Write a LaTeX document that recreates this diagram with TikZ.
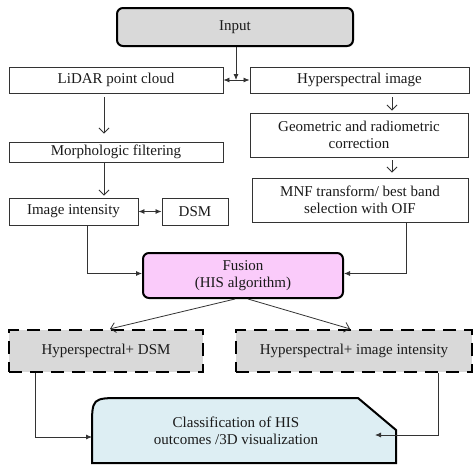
\documentclass[tikz,border=0pt]{standalone}
\usepackage{fontspec}
\setmainfont{Liberation Serif}
\usetikzlibrary{arrows.meta,shadows}
\definecolor{txt}{HTML}{1A1A1A}
\definecolor{edge}{HTML}{333333}
\definecolor{boxgray}{HTML}{D9D9D9}
\definecolor{fusionpink}{HTML}{FACBFA}
\definecolor{classblue}{HTML}{DDEEF3}
\tikzset{
  base/.style={draw=edge, line width=0.9pt, align=center, text=txt, inner sep=0pt,
    font=\fontsize{15}{17}\selectfont},
  plainbox/.style={base, rectangle},
  inputbox/.style={base, draw=black, line width=2pt, rounded corners=6pt, fill=boxgray,
    drop shadow={opacity=0.25, shadow xshift=1pt, shadow yshift=-1pt}},
  fusionbox/.style={base, draw=black, line width=2pt, rounded corners=6pt, fill=fusionpink},
  dashbox/.style={base, draw=black, line width=2.2pt, dash pattern=on 13pt off 8pt, fill=boxgray},
  conn/.style={draw=edge, line width=0.8pt},
  fillarrow/.style={conn, -{Latex[length=6pt,width=5pt]}},
  bothfill/.style={conn, {Latex[length=6pt,width=5pt]}-{Latex[length=6pt,width=5pt]}},
  openarrow/.style={conn, -{Straight Barb[length=5pt,width=10pt]}},
  classshape/.style={draw=black, line width=2pt, fill=classblue}
}
\begin{document}
\begin{tikzpicture}[x=1pt,y=-1pt]
\useasboundingbox (0,0) rectangle (474,474);
\fill[white] (0,0) rectangle (474,474);

\node[inputbox, minimum width=236pt, minimum height=38pt] (input) at (235,27) {Input};
\node[plainbox, minimum width=214pt, minimum height=26pt] (lidar) at (116,80) {LiDAR point cloud};
\node[plainbox, minimum width=219pt, minimum height=26pt] (hyper) at (359.5,80) {Hyperspectral image};
\node[plainbox, minimum width=214pt, minimum height=20pt] (morph) at (116,152) {Morphologic filtering};
\node[plainbox, minimum width=218pt, minimum height=44pt] (geom) at (359,135) {Geometric and radiometric\\correction};
\node[plainbox, minimum width=216pt, minimum height=44pt] (mnf) at (360,200) {MNF transform/ best band\\selection with OIF};
\node[plainbox, minimum width=129pt, minimum height=27pt] (intens) at (73.5,211.5) {Image intensity};
\node[plainbox, minimum width=66pt, minimum height=27pt] (dsm) at (195,211.5) {DSM};
\node[fusionbox, minimum width=200pt, minimum height=45pt] (fusion) at (243,275.5) {Fusion\\(HIS algorithm)};
\node[dashbox, minimum width=194pt, minimum height=42pt] (hdsm) at (106,351) {Hyperspectral+ DSM};
\node[dashbox, minimum width=236pt, minimum height=42pt] (hint) at (354,351) {Hyperspectral+ image intensity};

\draw[classshape] (92,463) -- (92,428) .. controls (92,398) .. (122,398) -- (358,398) -- (396,430) -- (396,463) -- cycle;
\node[base, draw=none] (classif) at (236,431) {Classification of HIS\\outcomes /3D visualization};
\coordinate (clsleft) at (92,437);
\coordinate (clsright) at (375,435);

\coordinate (junc) at (236,80);
\draw[fillarrow] (input.south -| junc) -- (junc);
\draw[bothfill] (lidar.east) -- (hyper.west);

\draw[openarrow] ([xshift=-12pt,yshift=-4pt]lidar.south) -- ([xshift=-12pt,yshift=8pt]morph.north);
\draw[openarrow] ([xshift=32.5pt,yshift=-4pt]hyper.south) -- ([xshift=33pt,yshift=2pt]geom.north);
\draw[openarrow] ([xshift=33pt,yshift=-3pt]geom.south) -- ([xshift=32pt,yshift=5pt]mnf.north);
\draw[openarrow] ([xshift=-12pt]morph.south) -- ([xshift=30.5pt,yshift=2pt]intens.north);
\draw[bothfill] (intens.east) -- (dsm.west);

\draw[fillarrow] ([xshift=13.5pt]intens.south) |- ([yshift=2pt]fusion.west);
\draw[fillarrow] ([xshift=46pt]mnf.south) |- ([yshift=2pt]fusion.east);

\draw[openarrow] ([xshift=-8pt]fusion.south) -- ([xshift=4pt]hdsm.north);
\draw[openarrow] ([xshift=5pt]fusion.south) -- ([xshift=-4pt]hint.north);

\draw[fillarrow] ([xshift=-71pt]hdsm.south) |- (clsleft);
\draw[fillarrow] ([xshift=84pt]hint.south) |- (clsright);
\end{tikzpicture}
\end{document}
